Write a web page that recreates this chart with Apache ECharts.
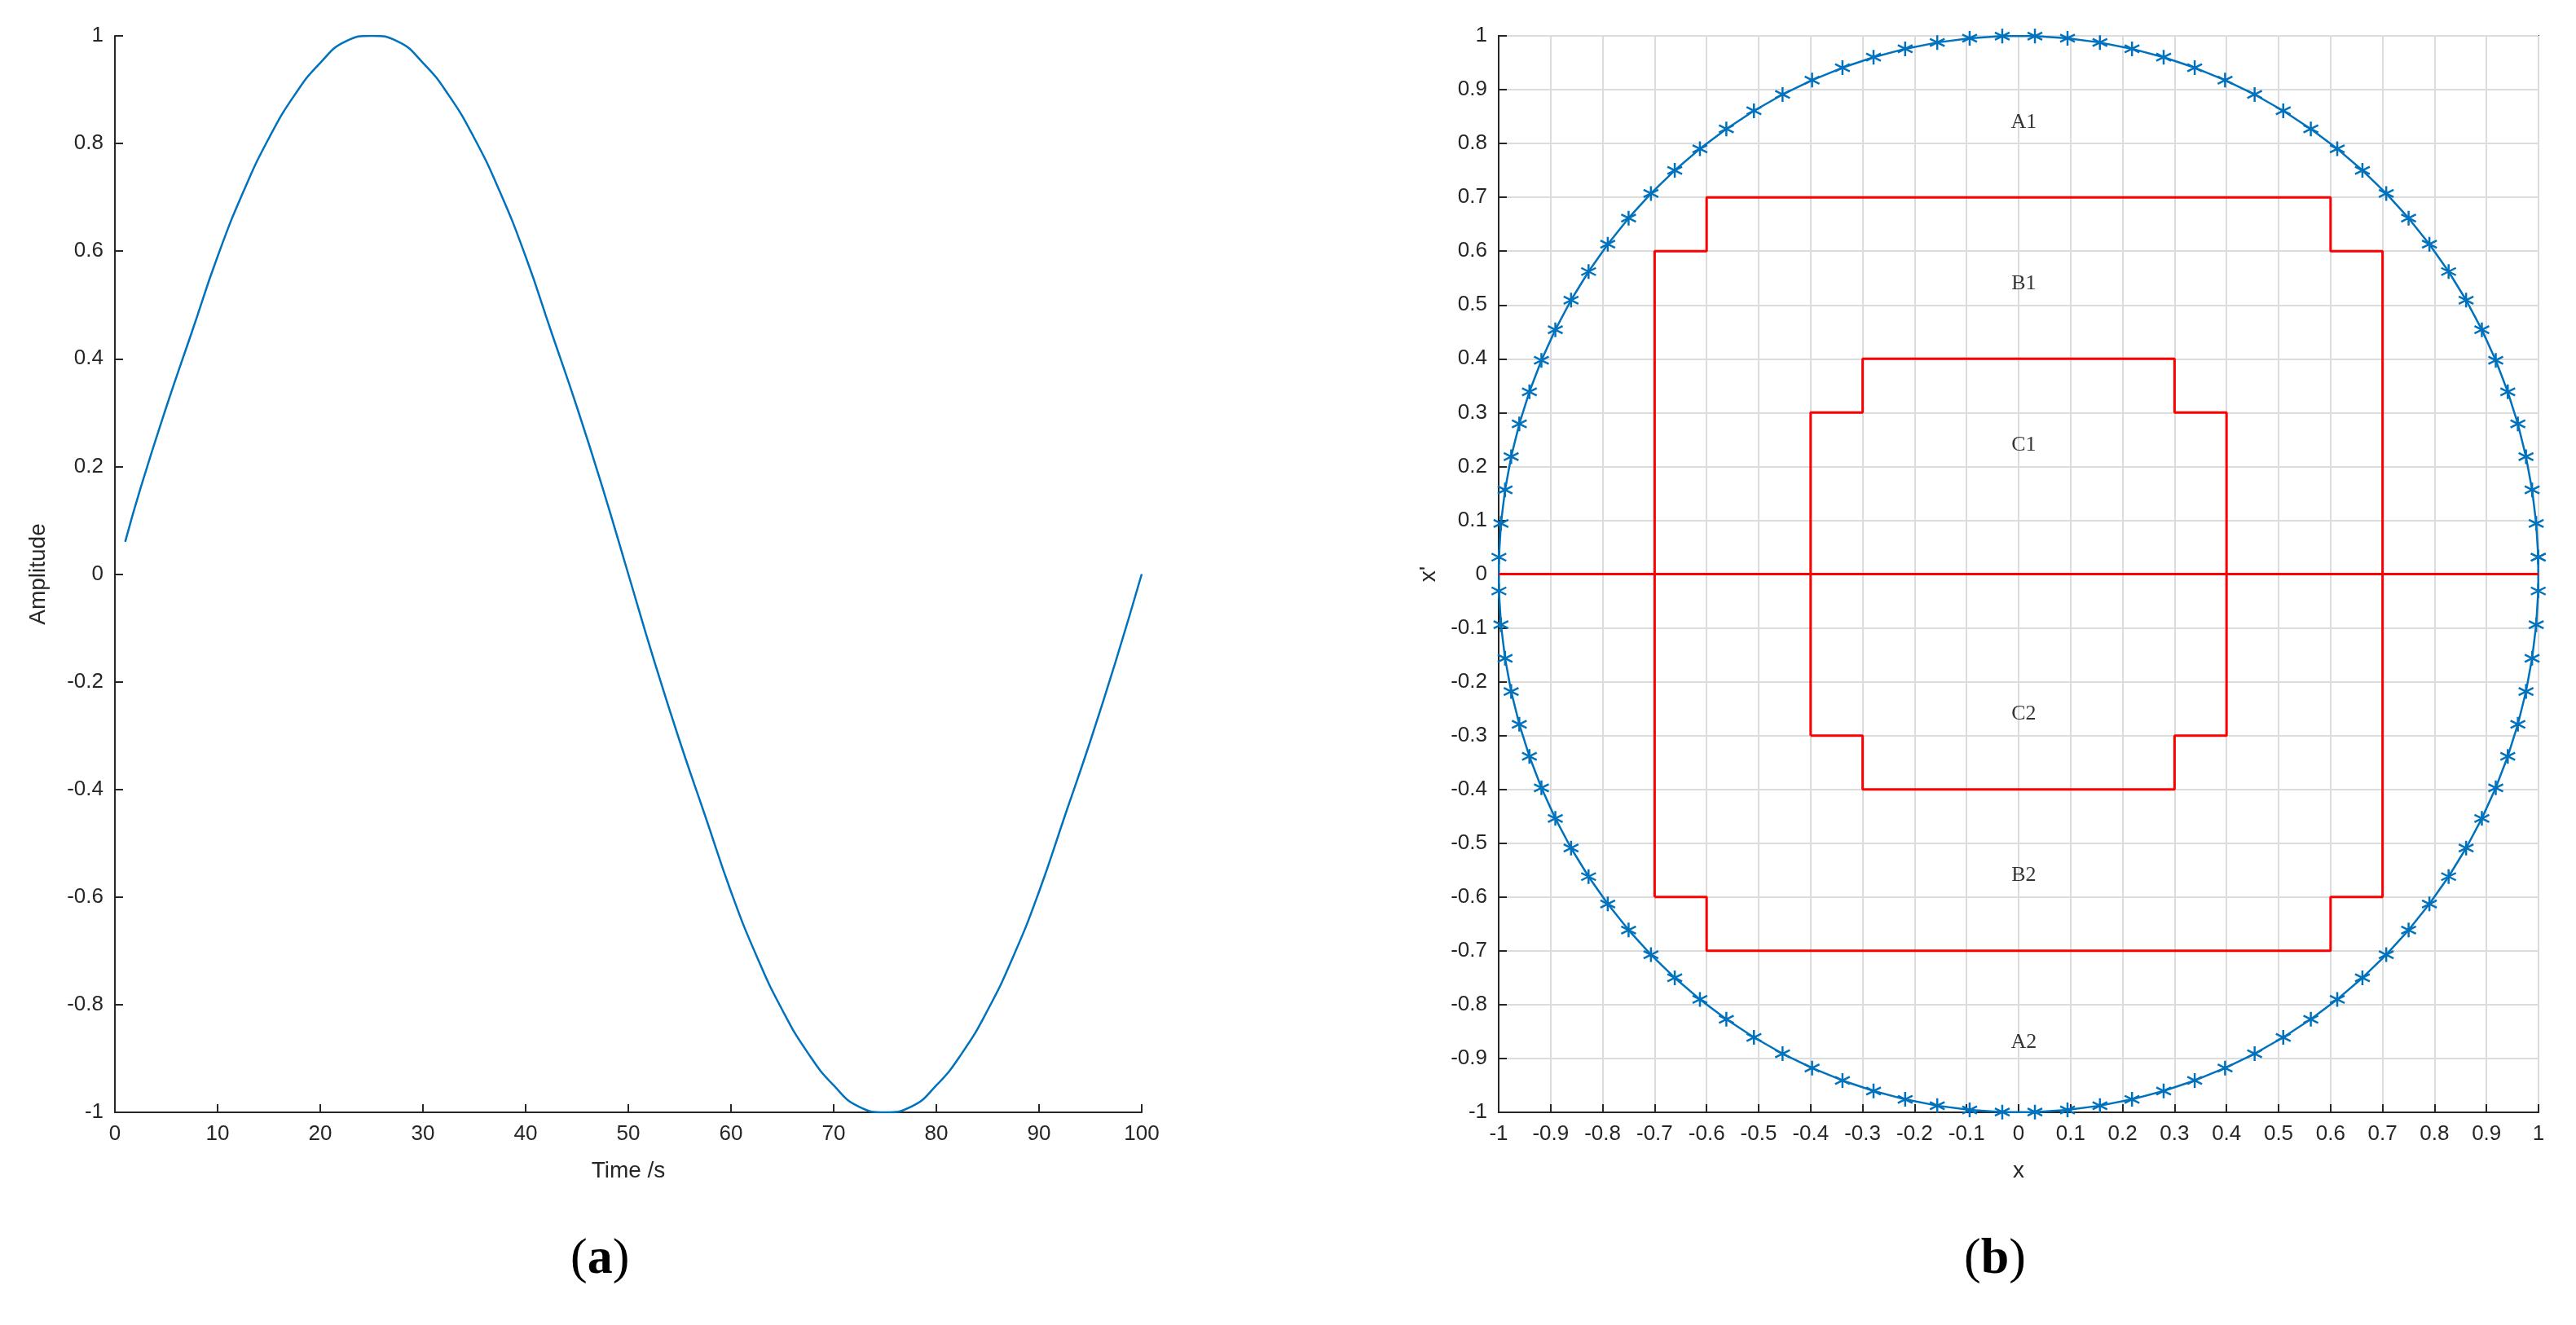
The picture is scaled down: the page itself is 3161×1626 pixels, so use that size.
<!DOCTYPE html>
<html><head><meta charset="utf-8">
<script src="https://cdn.jsdelivr.net/npm/echarts@6/dist/echarts.min.js"></script>
<style>html,body{margin:0;padding:0;background:#fff}#c{width:3161px;height:1626px}</style>
</head><body><div id="c"></div>
<script>
// Panel (a): sine
const timeS = [1,2.5,5,7.5,10,12.5,15,17.5,20,22.5,25,27.5,30,32.5,35,37.5,40,42.5,45,47.5,50,52.5,55,57.5,60,62.5,65,67.5,70,72.5,75,77.5,80,82.5,85,87.5,90,92.5,95,97.5,100];
const amplitude = [0.06,0.16,0.31,0.45,0.59,0.71,0.81,0.89,0.95,0.99,1.0,0.99,0.95,0.89,0.81,0.71,0.59,0.45,0.31,0.16,0,-0.16,-0.31,-0.45,-0.59,-0.71,-0.81,-0.89,-0.95,-0.99,-1.0,-0.99,-0.95,-0.89,-0.81,-0.71,-0.59,-0.45,-0.31,-0.16,0];
// Panel (b): positions of star markers on the unit circle (degrees)
const circleAngles = [1.8,5.4,9,12.6,16.2,19.8,23.4,27,30.6,34.2,37.8,41.4,45,48.6,52.2,55.8,59.4,63,66.6,70.2,73.8,77.4,81,84.6,88.2,91.8,95.4,99,102.6,106.2,109.8,113.4,117,120.6,124.2,127.8,131.4,135,138.6,142.2,145.8,149.4,153,156.6,160.2,163.8,167.4,171,174.6,178.2,181.8,185.4,189,192.6,196.2,199.8,203.4,207,210.6,214.2,217.8,221.4,225,228.6,232.2,235.8,239.4,243,246.6,250.2,253.8,257.4,261,264.6,268.2,271.8,275.4,279,282.6,286.2,289.8,293.4,297,300.6,304.2,307.8,311.4,315,318.6,322.2,325.8,329.4,333,336.6,340.2,343.8,347.4,351,354.6,358.2,361.8];
const outerX = [-0.7,-0.7,-0.6,-0.6,0.6,0.6,0.7,0.7,0.6,0.6,-0.6,-0.6,-0.7];
const outerY = [-0.6,0.6,0.6,0.7,0.7,0.6,0.6,-0.6,-0.6,-0.7,-0.7,-0.6,-0.6];
const innerX = [-0.4,-0.4,-0.3,-0.3,0.3,0.3,0.4,0.4,0.3,0.3,-0.3,-0.3,-0.4];
const innerY = [-0.3,0.3,0.3,0.4,0.4,0.3,0.3,-0.3,-0.3,-0.4,-0.4,-0.3,-0.3];
const axisLineX = [-1,1];
const axisLineY = [0,0];
const regionLabels = ['A1','B1','C1','C2','B2','A2'];
const regionLabelY = [0.84,0.54,0.24,-0.26,-0.56,-0.87];

const blue = '#0072BD';
const F = 'Liberation Sans';
const circlePts = circleAngles.map(a => [Math.cos(a*Math.PI/180), Math.sin(a*Math.PI/180)]);
const zip = (a,b) => a.map((v,i)=>[v,b[i]]);
const star = 'path://M0,-6L0,6M-5.2,-3L5.2,3M-5.2,3L5.2,-3';
const axBase = {
  axisLine:{onZero:false,lineStyle:{color:'#262626',width:2}},
  axisTick:{inside:true,length:10,lineStyle:{color:'#262626',width:2}},
  axisLabel:{color:'#262626',fontFamily:F,fontSize:26,margin:14},
  nameTextStyle:{color:'#262626',fontFamily:F,fontSize:28}
};
const chart = echarts.init(document.getElementById('c'));
chart.setOption({
  animation:false,
  grid:[
    {left:141,top:44,width:1260,height:1321},
    {left:1839,top:44,width:1276,height:1321,show:true,borderColor:'#262626',borderWidth:2,backgroundColor:'transparent'}
  ],
  xAxis:[
    Object.assign({},axBase,{gridIndex:0,type:'value',min:0,max:100,interval:10,splitLine:{show:false},
      name:'Time /s',nameLocation:'middle',nameGap:58}),
    Object.assign({},axBase,{gridIndex:1,type:'value',min:-1,max:1,interval:0.1,
      splitLine:{show:true,lineStyle:{color:'#dcdcdc',width:2}},
      axisLabel:Object.assign({},axBase.axisLabel,{formatter:v=>String(+v.toFixed(1))}),
      name:'x',nameLocation:'middle',nameGap:58})
  ],
  yAxis:[
    Object.assign({},axBase,{gridIndex:0,type:'value',min:-1,max:1,interval:0.2,splitLine:{show:false},
      axisLabel:Object.assign({},axBase.axisLabel,{formatter:v=>String(+v.toFixed(1))}),
      name:'Amplitude',nameLocation:'middle',nameGap:80}),
    Object.assign({},axBase,{gridIndex:1,type:'value',min:-1,max:1,interval:0.1,
      splitLine:{show:true,lineStyle:{color:'#dcdcdc',width:2}},
      axisLabel:Object.assign({},axBase.axisLabel,{formatter:v=>String(+v.toFixed(1))}),
      name:"x'",nameLocation:'middle',nameGap:72})
  ],
  series:[
    {type:'line',xAxisIndex:0,yAxisIndex:0,data:zip(timeS,amplitude),smooth:true,showSymbol:false,
      lineStyle:{color:blue,width:2.5}},
    {type:'line',xAxisIndex:1,yAxisIndex:1,data:circlePts,showSymbol:true,symbol:star,symbolSize:18,
      lineStyle:{color:blue,width:2.5},itemStyle:{color:'transparent',borderColor:blue,borderWidth:2.5}},
    {type:'line',xAxisIndex:1,yAxisIndex:1,data:zip(outerX,outerY),showSymbol:false,lineStyle:{color:'#ff0000',width:3}},
    {type:'line',xAxisIndex:1,yAxisIndex:1,data:zip(innerX,innerY),showSymbol:false,lineStyle:{color:'#ff0000',width:3}},
    {type:'line',xAxisIndex:1,yAxisIndex:1,data:zip(axisLineX,axisLineY),showSymbol:false,lineStyle:{color:'#ff0000',width:3}},
    {type:'scatter',xAxisIndex:1,yAxisIndex:1,symbolSize:0,
      data:regionLabels.map((t,i)=>({value:[0.01,regionLabelY[i]],name:t})),
      label:{show:true,position:'inside',formatter:p=>p.name,fontFamily:'Liberation Serif',fontSize:26,color:'#000'}}
  ],
  graphic:[
    {type:'text',left:700,top:1515,style:{rich:{p:{fontFamily:'Liberation Serif',fontSize:62},b:{fontFamily:'Liberation Serif',fontSize:62,fontWeight:'bold'}},text:'{p|(}{b|a}{p|)}'}},
    {type:'text',left:2410,top:1515,style:{rich:{p:{fontFamily:'Liberation Serif',fontSize:62},b:{fontFamily:'Liberation Serif',fontSize:62,fontWeight:'bold'}},text:'{p|(}{b|b}{p|)}'}}
  ]
});
</script></body></html>
